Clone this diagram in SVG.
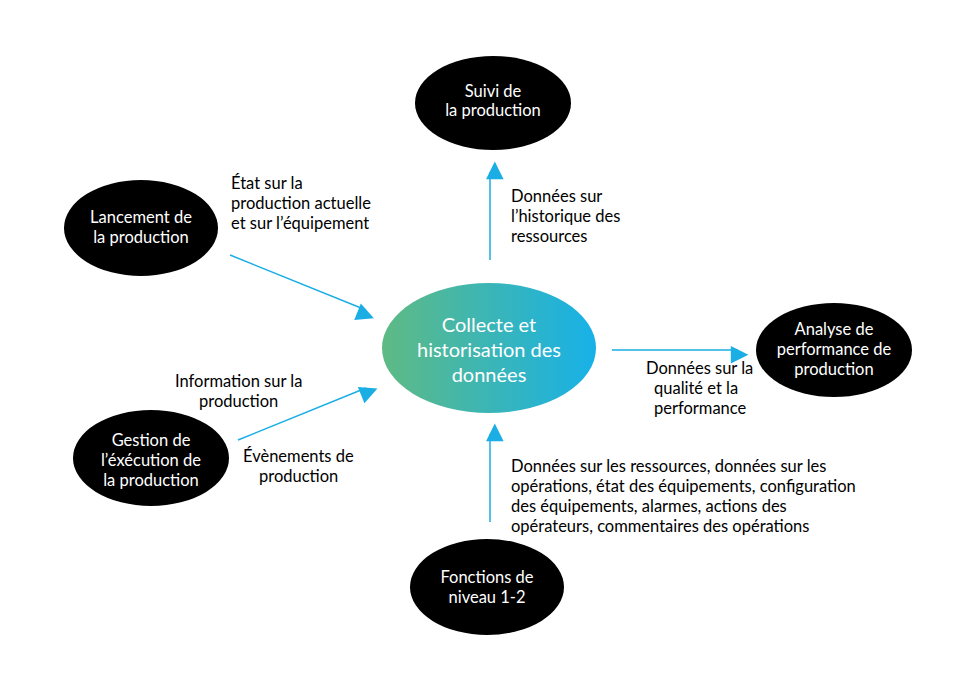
<svg xmlns="http://www.w3.org/2000/svg" width="980" height="693" viewBox="0 0 980 693">
<style>
.n{fill:#000}
.nt{fill:#fff;font-family:Lato,"Noto Sans",sans-serif;font-size:16.5px;text-anchor:middle}
.t{fill:#000;font-family:Lato,"Noto Sans",sans-serif;font-size:16.5px}
.c{stroke:#1aaee5;stroke-width:1.5;fill:none;marker-end:url(#a)}
</style>
<defs>
<marker id="a" viewBox="0 0 10 10" refX="9" refY="5" markerWidth="8" markerHeight="8" markerUnits="userSpaceOnUse" orient="auto" style="overflow:visible"><path d="M0,0 L10,5 L0,10 z" fill="#1aaee5" transform="scale(2.2) translate(-5,-5) translate(5,5)"/></marker>
<linearGradient id="g" x1="0" y1="0" x2="1" y2="0"><stop offset="0" stop-color="#5fba84"/><stop offset="1" stop-color="#17b1e8"/></linearGradient>
</defs>
<rect width="980" height="693" fill="#fff"/>
<g id="connectors">
<line class="c" x1="490" y1="260" x2="490" y2="172"/>
<line class="c" x1="230" y1="255" x2="366" y2="310"/>
<line class="c" x1="238" y1="440" x2="366" y2="388"/>
<line class="c" x1="612" y1="350" x2="738" y2="350"/>
<line class="c" x1="490" y1="522" x2="490" y2="434"/>
</g>
<g id="suivi"><ellipse class="n" cx="493" cy="103" rx="78" ry="47"/><text class="nt" x="493" y="97">Suivi de</text><text class="nt" x="493" y="116">la production</text></g>
<g id="lancement"><ellipse class="n" cx="141" cy="228" rx="77" ry="48"/><text class="nt" x="141" y="223">Lancement de</text><text class="nt" x="141" y="243">la production</text></g>
<g id="centre"><ellipse cx="489" cy="348" rx="107" ry="65" fill="url(#g)"/><text class="nt" x="489" y="332" style="font-size:20px">Collecte et</text><text class="nt" x="489" y="357" style="font-size:20px">historisation des</text><text class="nt" x="489" y="382" style="font-size:20px">données</text></g>
<g id="analyse"><ellipse class="n" cx="834" cy="350" rx="78" ry="47"/><text class="nt" x="834" y="335">Analyse de</text><text class="nt" x="834" y="355">performance de</text><text class="nt" x="834" y="375">production</text></g>
<g id="gestion"><ellipse class="n" cx="151" cy="458" rx="78" ry="48"/><text class="nt" x="151" y="446">Gestion de</text><text class="nt" x="151" y="466">l’éxécution de</text><text class="nt" x="151" y="486">la production</text></g>
<g id="fonctions"><ellipse class="n" cx="487" cy="587" rx="77" ry="48"/><text class="nt" x="487" y="583">Fonctions de</text><text class="nt" x="487" y="603">niveau 1-2</text></g>
<g id="labels">
<text class="t" x="511" y="202">Données sur</text><text class="t" x="511" y="222">l’historique des</text><text class="t" x="511" y="242">ressources</text>
<text class="t" x="231" y="189">État sur la</text><text class="t" x="231" y="209">production actuelle</text><text class="t" x="231" y="229">et sur l’équipement</text>
<text class="t" x="175" y="387">Information sur la</text><text class="t" x="199" y="407">production</text>
<text class="t" x="243" y="462">Évènements de</text><text class="t" x="259" y="482">production</text>
<text class="t" x="646" y="374">Données sur la</text><text class="t" x="654" y="394">qualité et la</text><text class="t" x="654" y="414">performance</text>
<text class="t" x="511" y="472">Données sur les ressources, données sur les</text><text class="t" x="511" y="492">opérations, état des équipements, configuration</text><text class="t" x="511" y="512">des équipements, alarmes, actions des</text><text class="t" x="511" y="532">opérateurs, commentaires des opérations</text>
</g>
</svg>
